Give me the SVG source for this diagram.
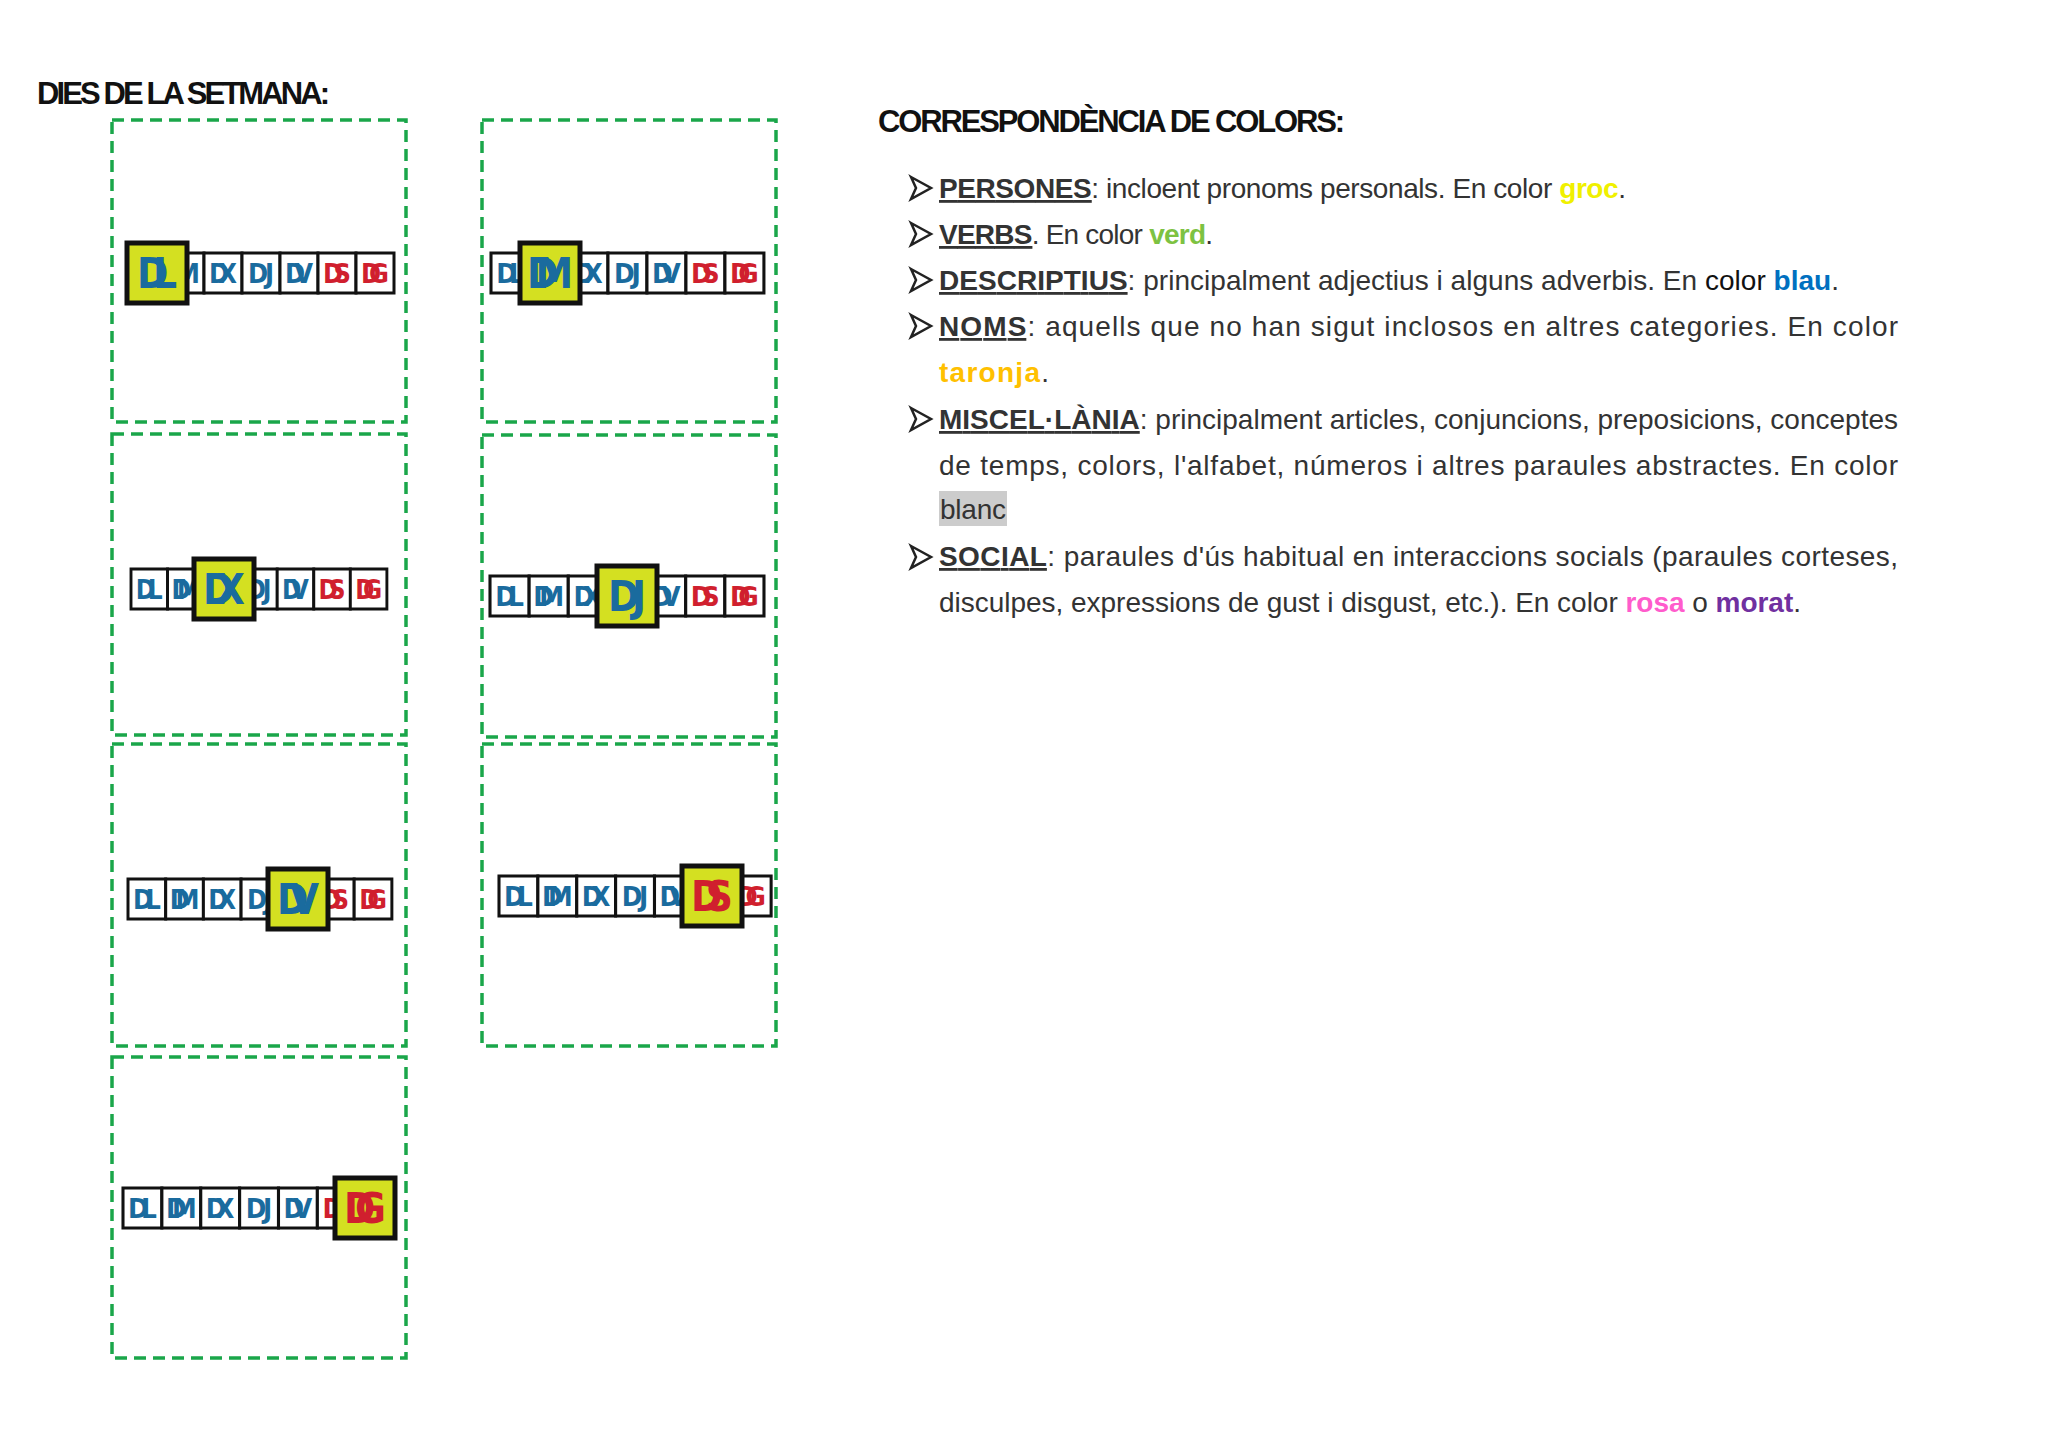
<svg xmlns="http://www.w3.org/2000/svg" xmlns:xlink="http://www.w3.org/1999/xlink" width="2048" height="1448" viewBox="0 0 2048 1448">
<style>
.card{fill:none;stroke:#1aa64a;stroke-width:3.5;stroke-dasharray:12 7}
.cell{fill:#fff;stroke:#111;stroke-width:3}
.lb{font-family:"DejaVu Sans Condensed","DejaVu Sans",sans-serif;font-weight:bold;font-size:27px;text-anchor:middle}
.b{fill:#1a6b9e}.r{fill:#d01f2e}
.big{fill:#d4e021;stroke:#111;stroke-width:5}
.bl{font-family:"DejaVu Sans Condensed","DejaVu Sans",sans-serif;font-weight:bold;font-size:42px;text-anchor:middle}
.h{font-family:"Liberation Sans",sans-serif;font-weight:bold;font-size:31px;fill:#111}
.t{font-family:"Liberation Sans",sans-serif;font-size:28px;fill:#333}
.k{font-weight:bold;text-decoration:underline}
.arr{fill:#fff;stroke:#222;stroke-width:2.5}
</style>
<defs>
<g id="strip">
<rect class="cell" x="0" y="-20" width="38" height="40"/><rect class="cell" x="38" y="-20" width="38" height="40"/><rect class="cell" x="76" y="-20" width="38" height="40"/><rect class="cell" x="114" y="-20" width="38" height="40"/><rect class="cell" x="152" y="-20" width="38" height="40"/><rect class="cell" x="190" y="-20" width="38" height="40"/><rect class="cell" x="228" y="-20" width="38" height="40"/>
<text class="lb b" x="19" y="10" textLength="28">DL</text><text class="lb b" x="57" y="10" textLength="30">DM</text><text class="lb b" x="95" y="10" textLength="28">DX</text><text class="lb b" x="133" y="10" textLength="26">DJ</text><text class="lb b" x="171" y="10" textLength="28">DV</text><text class="lb r" x="209" y="10" textLength="28">DS</text><text class="lb r" x="247" y="10" textLength="28">DG</text>
</g>
<path id="ar" d="M0,-11 L20,0 L0,11 L5,0 Z"/>
</defs>
<text class="h" x="37" y="104" textLength="293">DIES DE LA SETMANA:</text>
<g id="dl"><rect class="card" x="112" y="120" width="294" height="302"/><use xlink:href="#strip" transform="translate(128,273) scale(1,1)"/><rect class="big" x="127" y="243" width="60" height="60"/><text class="bl b" x="157" y="288" textLength="40">DL</text></g>
<g id="dm"><rect class="card" x="482" y="120" width="294" height="302"/><use xlink:href="#strip" transform="translate(491,273) scale(1.026,1)"/><rect class="big" x="520" y="243" width="60" height="60"/><text class="bl b" x="550" y="288" textLength="46">DM</text></g>
<g id="dx"><rect class="card" x="112" y="434" width="294" height="301"/><use xlink:href="#strip" transform="translate(131,589) scale(0.962,1)"/><rect class="big" x="194" y="559" width="60" height="60"/><text class="bl b" x="224" y="604" textLength="42">DX</text></g>
<g id="dj"><rect class="card" x="482" y="435" width="294" height="302"/><use xlink:href="#strip" transform="translate(490,596) scale(1.03,1)"/><rect class="big" x="597" y="566" width="60" height="60"/><text class="bl b" x="627" y="611" textLength="38">DJ</text></g>
<g id="dv"><rect class="card" x="112" y="744" width="294" height="302"/><use xlink:href="#strip" transform="translate(128,899) scale(0.992,1)"/><rect class="big" x="268" y="869" width="60" height="60"/><text class="bl b" x="298" y="914" textLength="42">DV</text></g>
<g id="ds"><rect class="card" x="482" y="744" width="294" height="302"/><use xlink:href="#strip" transform="translate(499,896) scale(1.023,1)"/><rect class="big" x="682" y="866" width="60" height="60"/><text class="bl r" x="712" y="911" textLength="42">DS</text></g>
<g id="dg"><rect class="card" x="112" y="1057" width="294" height="301"/><use xlink:href="#strip" transform="translate(123,1208) scale(1.023,1)"/><rect class="big" x="335" y="1178" width="60" height="60"/><text class="bl r" x="365" y="1223" textLength="42">DG</text></g>
<text class="h" x="878" y="132" textLength="467">CORRESPONDÈNCIA DE COLORS:</text>
<g id="arrows">
<use xlink:href="#ar" class="arr" x="911" y="188"/><use xlink:href="#ar" class="arr" x="911" y="234"/><use xlink:href="#ar" class="arr" x="911" y="280"/><use xlink:href="#ar" class="arr" x="911" y="326"/><use xlink:href="#ar" class="arr" x="911" y="419"/><use xlink:href="#ar" class="arr" x="911" y="557"/>
</g>
<g id="legend">
<text class="t" x="939" y="198" textLength="687"><tspan class="k">PERSONES</tspan>: incloent pronoms personals. En color <tspan fill="#f0f000" font-weight="bold">groc</tspan>.</text>
<text class="t" x="939" y="244" textLength="274"><tspan class="k">VERBS</tspan>. En color <tspan fill="#7dc242" font-weight="bold">verd</tspan>.</text>
<text class="t" x="939" y="290" textLength="900"><tspan class="k">DESCRIPTIUS</tspan>: principalment adjectius i alguns adverbis. En <tspan fill="#111">color</tspan> <tspan fill="#0070c0" font-weight="bold">blau</tspan>.</text>
<text class="t" x="939" y="336" textLength="959"><tspan class="k">NOMS</tspan>: aquells que no han sigut inclosos en altres categories. En color</text>
<text class="t" x="939" y="382" textLength="110"><tspan fill="#ffc000" font-weight="bold">taronja</tspan>.</text>
<text class="t" x="939" y="429" textLength="959"><tspan class="k">MISCEL·LÀNIA</tspan>: principalment articles, conjuncions, preposicions, conceptes</text>
<text class="t" x="939" y="475" textLength="959">de temps, colors, l'alfabet, números i altres paraules abstractes. En color</text>
<rect x="939" y="491" width="68" height="35" fill="#cccccc"/>
<text class="t" x="940" y="519" fill="#fff" textLength="66">blanc</text>
<text class="t" x="939" y="566" textLength="959"><tspan class="k">SOCIAL</tspan>: paraules d'ús habitual en interaccions socials (paraules corteses,</text>
<text class="t" x="939" y="612" textLength="862">disculpes, expressions de gust i disgust, etc.). En color <tspan fill="#ff5ccc" font-weight="bold">rosa</tspan> o <tspan fill="#7030a0" font-weight="bold">morat</tspan>.</text>
</g>
</svg>
